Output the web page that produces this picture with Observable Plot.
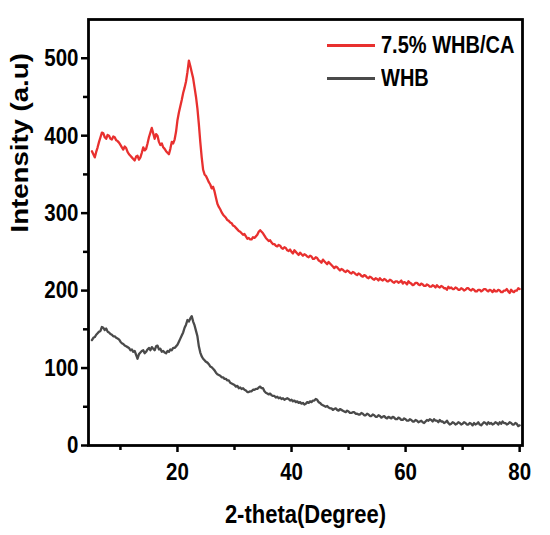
<!DOCTYPE html>
<html><head><meta charset="utf-8">
<script src="https://cdn.jsdelivr.net/npm/d3@7"></script>
<script src="https://cdn.jsdelivr.net/npm/@observablehq/plot@0.6"></script>
<style>
body{margin:0;background:#fff;}
#wrap{position:relative;width:550px;height:535px;overflow:hidden;}
.legend{position:absolute;left:327px;top:29px;font-family:"Liberation Sans",Arial,sans-serif;font-weight:bold;font-size:20px;color:#000;}
.legend .row{display:flex;align-items:center;height:33px;}
.legend .sw{display:inline-block;width:48px;height:3px;margin-right:6px;}
.legend .lab{display:inline-block;transform:scaleY(1.2);white-space:nowrap;}
</style></head><body><div id="wrap"></div>
<script>
const seriesNames = ["7.5% WHB/CA", "WHB"];
const seriesColors = ["#e8302f", "#4a4a4a"];
const angles = d3.range(5, 80.01, 0.25); // 2θ sampling grid, 5°–80°
const redValues = [
  380,376,372,379,385,392,398,404,403,398,396,401,400,396,395,399,398,394,393,391,
  388,385,382,386,384,379,376,374,372,370,368,373,374,369,372,378,385,381,383,390,
  398,404,410,403,396,402,400,392,388,390,385,383,380,378,376,383,392,390,395,405,
  420,430,438,446,455,462,470,482,497,490,482,474,462,450,435,415,392,372,356,350,
  348,344,340,337,332,334,328,320,312,308,305,301,298,296,294,291,290,288,287,284,
  283,281,279,277,276,274,272,273,270,267,268,266,266,269,268,270,272,276,278,276,
  274,271,268,266,264,265,262,260,260,258,257,259,258,255,254,256,255,252,251,253,
  250,248,252,250,248,246,249,247,245,247,246,244,243,245,244,241,241,243,242,239,
  238,236,240,238,236,234,237,235,233,231,229,231,230,228,226,228,227,225,224,226,
  225,223,222,224,223,221,220,222,221,219,218,220,219,217,216,218,217,215,214,216,
  215,213,216,214,213,215,214,212,212,214,213,211,210,212,212,210,211,213,209,211,
  210,208,212,210,209,207,208,210,210,208,207,209,208,206,206,208,207,205,205,207,
  206,204,207,205,204,206,205,203,203,201,205,203,204,202,202,204,203,201,201,203,
  202,200,201,203,203,201,200,202,201,199,199,201,201,199,200,202,202,200,199,201,
  200,198,201,199,199,201,200,198,198,200,200,202,199,197,201,199,198,200,200,203,
  202
];
const grayValues = [
  136,139,140,143,145,147,148,153,152,149,151,147,146,144,143,141,141,139,138,137,
  134,132,131,129,128,127,126,123,124,121,122,117,112,118,120,122,123,119,121,124,
  126,123,127,125,123,128,129,124,125,121,122,120,119,122,121,124,123,126,126,128,
  130,134,138,142,146,152,156,162,160,164,167,160,155,148,141,128,120,115,112,110,
  108,107,105,102,101,99,97,94,92,91,90,88,88,86,86,84,84,81,80,79,
  78,76,77,74,75,73,74,72,71,69,69,70,70,72,72,73,73,75,76,74,
  74,70,68,67,66,67,65,64,64,62,63,61,62,60,61,59,60,61,60,58,
  59,57,58,56,57,55,56,54,55,53,54,56,55,57,56,58,58,60,59,56,
  55,53,52,51,50,51,49,48,48,46,47,48,46,45,47,46,45,44,43,45,
  44,42,42,43,43,41,41,40,40,42,41,39,39,41,40,38,38,40,39,37,
  37,39,38,36,37,38,36,35,37,36,35,37,36,34,34,36,35,33,33,35,
  34,32,32,34,33,31,31,33,32,30,31,32,30,29,31,33,32,34,33,31,
  34,32,32,30,33,31,31,29,30,32,29,27,28,30,29,27,28,30,29,27,
  28,30,29,27,27,29,28,26,29,27,28,30,27,26,28,30,29,27,30,28,
  29,27,28,30,29,27,30,28,31,29,29,27,28,30,29,27,27,29,28,25,
  26
];
const xTicks = [20, 40, 60, 80];
const xMinorTicks = [10, 30, 50, 70];
const yTicks = [0, 100, 200, 300, 400, 500];
const yMinorTicks = [50, 150, 250, 350, 450];
const xLabel = "2-theta(Degree)";
const yLabel = "Intensity (a.u)";

const data = [
  ...angles.map((a, i) => ({angle: a, intensity: redValues[i], series: seriesNames[0]})),
  ...angles.map((a, i) => ({angle: a, intensity: grayValues[i], series: seriesNames[1]}))
];

const plot = Plot.plot({
  width: 550, height: 535,
  marginLeft: 88, marginRight: 28, marginTop: 19, marginBottom: 90,
  x: {domain: [4.4, 80.5]},
  y: {domain: [0, 550]},
  color: {domain: seriesNames, range: seriesColors},
  style: {fontFamily: "Liberation Sans, Arial, sans-serif", fontWeight: "bold", background: "white", color: "black"},
  marks: [
    Plot.line(data, {x: "angle", y: "intensity", stroke: "series", strokeWidth: 2.3, strokeLinejoin: "round"}),
    Plot.frame({stroke: "black", strokeWidth: 2.8}),
    Plot.axisX({ticks: xTicks, tickSize: 7, tickPadding: 10, fontSize: 20.5, fontWeight: "bold", label: null, strokeWidth: 2.5, tickFormat: d => d}),
    Plot.axisX({ticks: xMinorTicks, tickSize: 5, text: null, label: null, strokeWidth: 2.5}),
    Plot.axisY({ticks: yTicks, tickSize: 7, tickPadding: 3, fontSize: 20.5, fontWeight: "bold", label: null, strokeWidth: 2.5, tickFormat: d => d}),
    Plot.axisY({ticks: yMinorTicks, tickSize: 5, text: null, label: null, strokeWidth: 2.5}),
    Plot.text([xLabel], {frameAnchor: "bottom", dy: 77, fontSize: 22, fontWeight: "bold", fill: "black"}),
    Plot.text([yLabel], {frameAnchor: "left", dx: -68, rotate: -90, fontSize: 23, fontWeight: "bold", fill: "black"})
  ]
});

// mimic the reference's vertical stretch of lettering
plot.querySelectorAll("text").forEach(t => {
  const tr = t.getAttribute("transform") || "";
  if (t.textContent === yLabel) t.setAttribute("transform", tr + " scale(1.2,1)");
  else t.setAttribute("transform", tr + " scale(1,1.2)");
});

const wrap = document.getElementById("wrap");
wrap.appendChild(plot);

const legend = document.createElement("div");
legend.className = "legend";
seriesNames.forEach((name, i) => {
  const row = document.createElement("div");
  row.className = "row";
  const sw = document.createElement("span");
  sw.className = "sw";
  sw.style.background = seriesColors[i];
  const lab = document.createElement("span");
  lab.className = "lab";
  lab.textContent = name;
  row.appendChild(sw); row.appendChild(lab);
  legend.appendChild(row);
});
wrap.appendChild(legend);
</script>
</body></html>
